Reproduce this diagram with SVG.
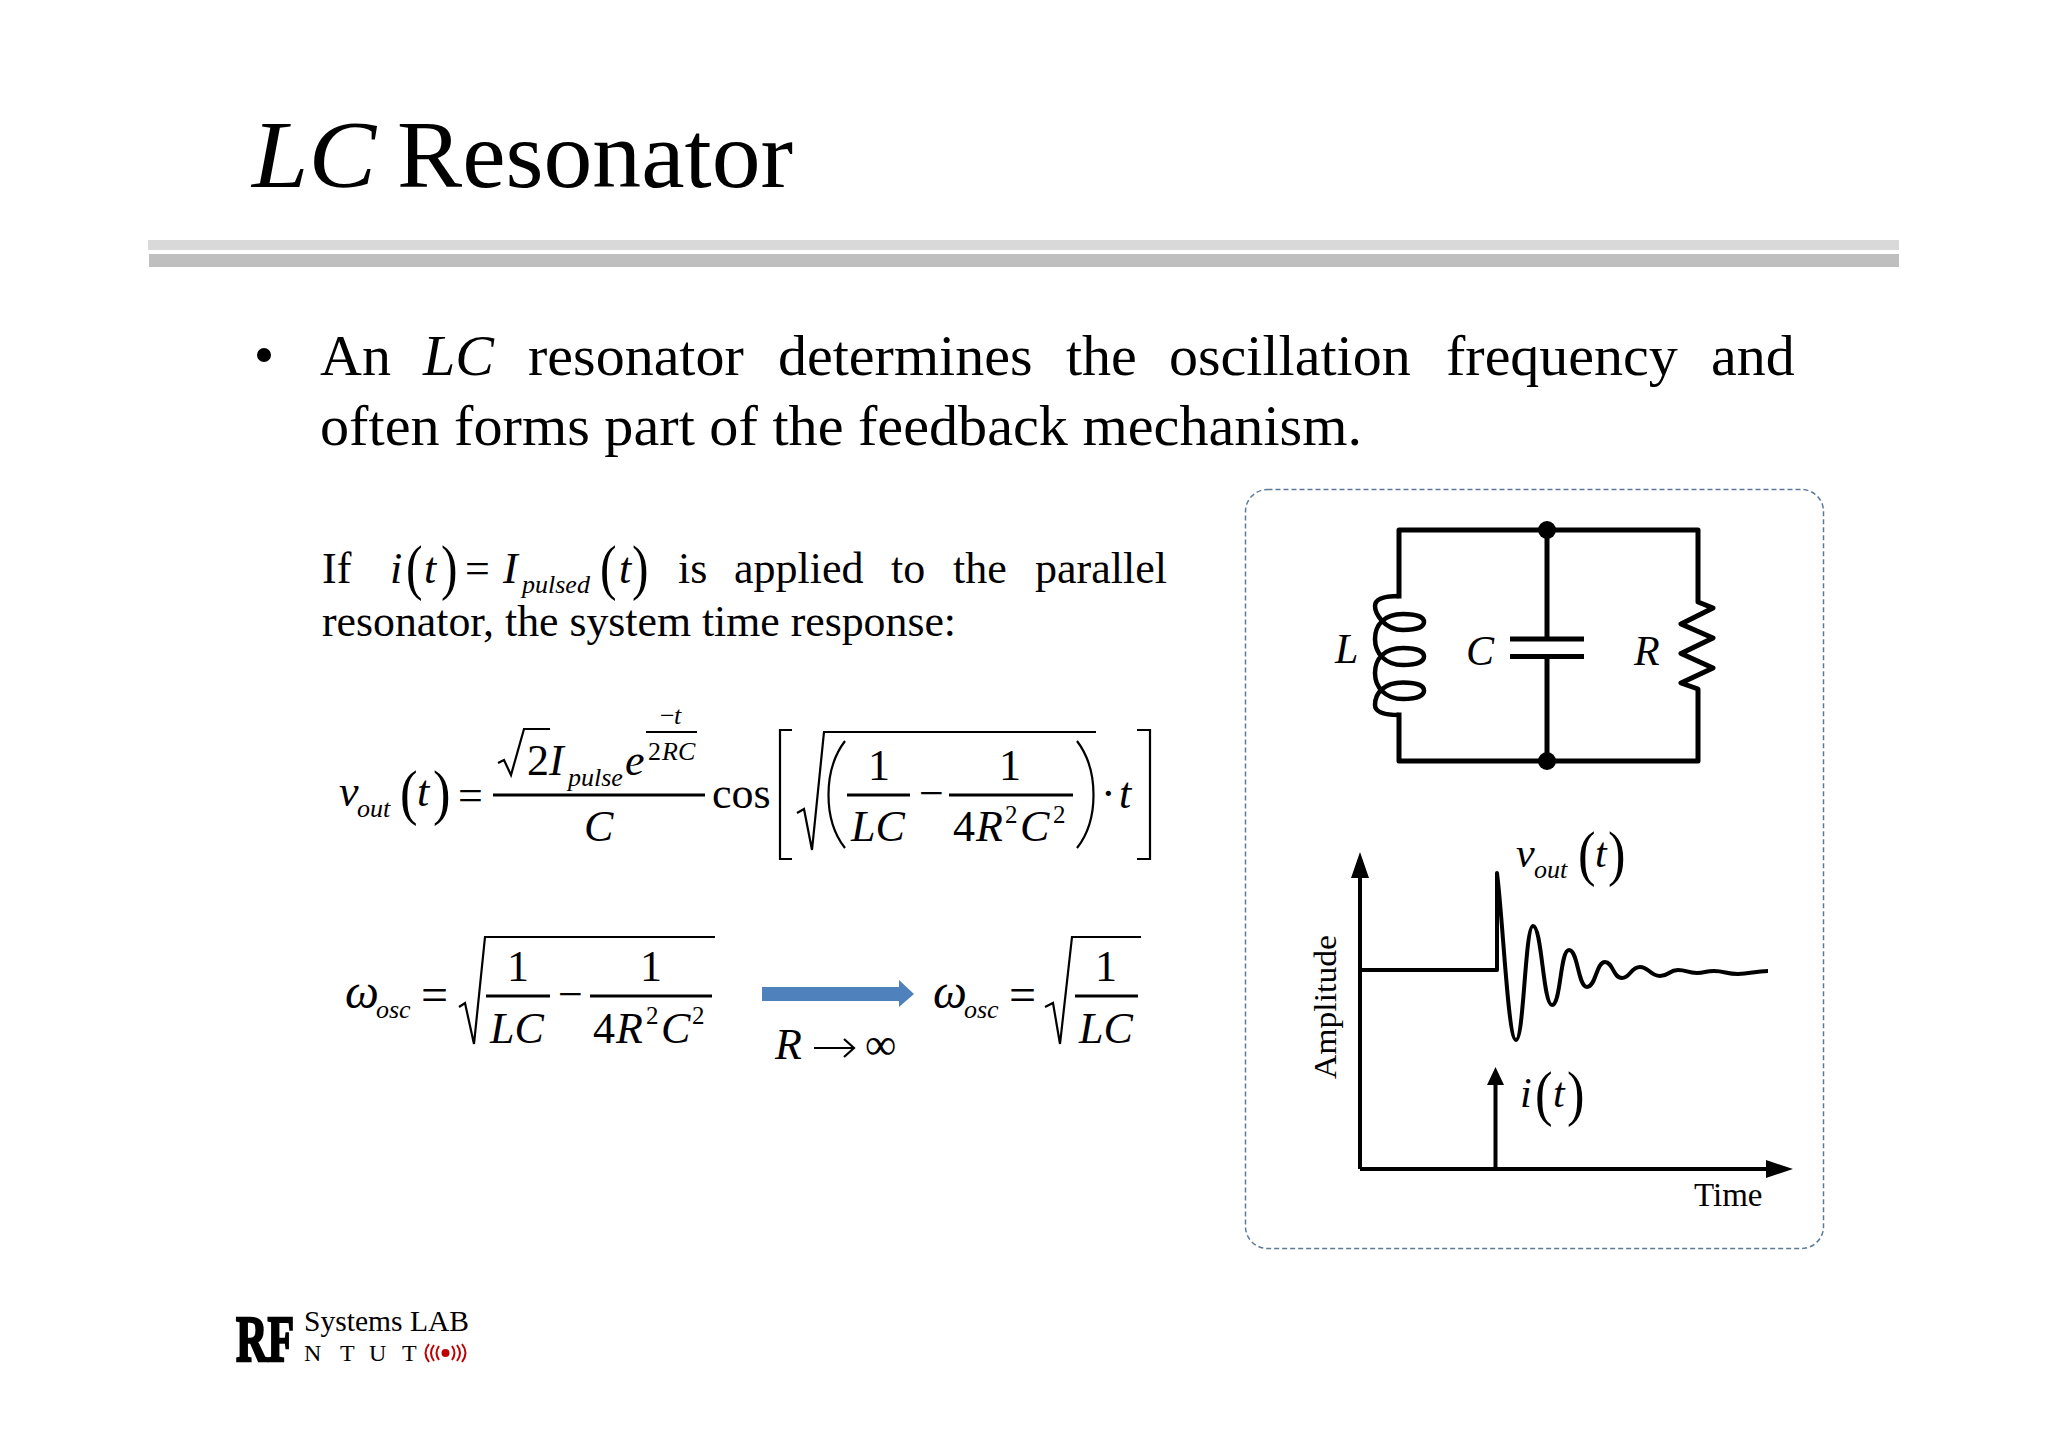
<svg xmlns="http://www.w3.org/2000/svg" width="2048" height="1447" viewBox="0 0 2048 1447">
<style>
text{font-family:"Liberation Serif","Times New Roman",serif;fill:#000}
.i{font-style:italic}
.t{font-size:95px}.b{font-size:58px}.p{font-size:44px}.e{font-size:44px}
.s{font-size:26px}.x{font-size:25px}.c{font-size:42px}.o{font-size:48px}
.br{font-size:62px;font-weight:normal}
.w{fill:none;stroke:#000;stroke-width:5;stroke-linejoin:round}
.m{fill:none;stroke:#000;stroke-width:2.2}
.mb{fill:none;stroke:#000;stroke-width:3}
.sig{fill:none;stroke:#c00000;stroke-width:2}
</style>
<rect width="2048" height="1447" fill="#fff"/>
<g id="title">
<text class="t i" x="252" y="187" textLength="124" lengthAdjust="spacingAndGlyphs">LC</text><text class="t" x="397" y="187" textLength="396" lengthAdjust="spacingAndGlyphs">Resonator</text>
<rect x="148" y="240" width="1751" height="10" fill="#d9d9d9"/>
<rect x="149" y="254" width="1750" height="13" fill="#bfbfbf"/>
</g>
<g id="bullet">
<circle cx="264" cy="355" r="7" fill="#000"/>
<text class="b" y="375"><tspan x="320">An</tspan><tspan x="423" class="i">LC</tspan><tspan x="528">resonator</tspan><tspan x="778">determines</tspan><tspan x="1066">the</tspan><tspan x="1169">oscillation</tspan><tspan x="1446">frequency</tspan><tspan x="1711">and</tspan></text>
<text class="b" x="320" y="445" textLength="1042" lengthAdjust="spacingAndGlyphs">often forms part of the feedback mechanism.</text>
</g>
<g id="intro">
<text class="p" y="583"><tspan x="322">If</tspan><tspan x="390" class="i">i</tspan><tspan x="424" class="i">t</tspan><tspan x="465">=</tspan><tspan x="503" class="i">I</tspan><tspan x="619" class="i">t</tspan><tspan x="678">is</tspan><tspan x="734">applied</tspan><tspan x="891">to</tspan><tspan x="953">the</tspan><tspan x="1035">parallel</tspan></text>
<text class="s i" x="522" y="593">pulsed</text>
<text class="br" transform="translate(406 588) scale(.8 1)">(</text><text class="br" transform="translate(441 588) scale(.8 1)">)</text><text class="br" transform="translate(600 588) scale(.8 1)">(</text><text class="br" transform="translate(632 588) scale(.8 1)">)</text>
<text class="p" x="322" y="636" textLength="634" lengthAdjust="spacingAndGlyphs">resonator, the system time response:</text>
</g>
<g id="equation-vout">
<text class="e i" x="339" y="806">v</text><text class="s i" x="357" y="817">out</text>
<text class="br" transform="translate(400 813) scale(.85 1)">(</text><text class="br" transform="translate(433 813) scale(.85 1)">)</text>
<text class="e i" x="417" y="806">t</text>
<text class="e" x="458" y="810">=</text>
<path class="m" d="M498 763L504 760L511 775L524 729H550"/>
<text class="e" x="527" y="775">2</text><text class="e i" x="549" y="775">I</text>
<text class="s i" x="568" y="786">pulse</text><text class="e i" x="625" y="775">e</text>
<text class="s" x="660" y="724">−</text><text class="s i" x="674" y="724">t</text>
<path class="m" d="M646 732H697"/>
<text class="s" x="648" y="760">2</text><text class="s i" x="662" y="760">RC</text>
<path class="mb" d="M493 795H705"/>
<text class="e i" x="584" y="841">C</text>
<text class="e" x="712" y="808">cos</text>
<path class="m" d="M792 730H780V859H792"/>
<path class="m" d="M797 813L804 809L812 850L824 732H1096"/>
<path class="m" d="M845 741C823 770 823 820 845 848"/>
<path class="m" d="M1077 741C1099 770 1099 820 1077 848"/>
<text class="e" x="868" y="780">1</text>
<path class="mb" d="M847 795H910"/>
<text class="e i" x="851" y="841">LC</text>
<text class="e" x="919" y="808">−</text>
<text class="e" x="999" y="780">1</text>
<path class="mb" d="M949 795H1073"/>
<text class="e" x="953" y="841">4</text><text class="e i" x="976" y="841">R</text><text class="x" x="1005" y="823">2</text><text class="e i" x="1020" y="841">C</text><text class="x" x="1053" y="823">2</text>
<text class="e" x="1101" y="808">·</text><text class="e i" x="1119" y="808">t</text>
<path class="m" d="M1137 730H1150V859H1137"/>
</g>
<g id="equation-wosc">
<text class="o i" x="345" y="1008">ω</text><text class="s i" x="376" y="1018">osc</text>
<text class="o" x="421" y="1011">=</text>
<path class="m" d="M459 1007L465 1003L474 1044L485 937H715"/>
<text class="e" x="507" y="981">1</text><path class="mb" d="M486 996H550"/>
<text class="e i" x="490" y="1043">LC</text>
<text class="e" x="558" y="1009">−</text>
<text class="e" x="640" y="981">1</text><path class="mb" d="M590 996H712"/>
<text class="e" x="593" y="1043">4</text><text class="e i" x="616" y="1043">R</text><text class="x" x="646" y="1024">2</text><text class="e i" x="661" y="1043">C</text><text class="x" x="692" y="1024">2</text>
</g>
<g id="limit-arrow">
<path fill="#4f81bd" d="M762 987H899V980L914 994L899 1007V1001H762Z"/>
<text class="e i" x="775" y="1059">R</text>
<path class="m" d="M814 1048H853M844 1039L854 1048L844 1057"/>
<text x="865" y="1059" style="font-size:44px">∞</text>
</g>
<g id="equation-wosc-limit">
<text class="o i" x="933" y="1008">ω</text><text class="s i" x="964" y="1018">osc</text>
<text class="o" x="1009" y="1011">=</text>
<path class="m" d="M1045 1007L1053 1003L1060 1044L1072 937H1141"/>
<text class="e" x="1095" y="981">1</text><path class="mb" d="M1075 996H1138"/>
<text class="e i" x="1079" y="1043">LC</text>
</g>
<g id="panel"><rect x="1245.500" y="489.500" width="578" height="759" rx="22" fill="#fff" stroke="#5b7a99" stroke-width="1.500" stroke-dasharray="5 3"/></g>
<g id="circuit">
<path class="w" stroke-linecap="square" d="M1399 596V530H1698V602L1713 608L1681 624L1713 638L1681 653.500L1713 668L1681 683L1698 689V761H1399V715"/>
<path class="w" d="M1547 530V639M1547 656V761M1510 639H1584M1510 656.500H1584"/>
<path class="w" style="stroke-width:4.500" d="M1399 596C1385 596 1375 599 1375 606C1375 612 1383 630 1403 630C1416 630 1424 627 1424 622C1424 617 1416 614 1403 614C1384 614 1375 625 1375 639C1375 653 1385 665 1403 665C1416 665 1424 662 1424 656.500C1424 651 1416 648 1403 648C1384 648 1375 659 1375 673C1375 687 1385 699 1403 699C1416 699 1424 696 1424 690.500C1424 685.500 1416 682.500 1403 682.500C1384 682.500 1375 693 1375 705C1375 712 1385 715 1399 715"/>
<circle cx="1547" cy="530" r="9"/><circle cx="1547" cy="761" r="9"/>
<text class="c i" x="1335" y="663">L</text><text class="c i" x="1466" y="665">C</text><text class="c i" x="1634" y="665">R</text>
</g>
<g id="waveform">
<path class="w" style="stroke-width:4" d="M1360 1169V875M1360 1169H1770M1495.500 1169V1082"/>
<path d="M1351 878L1360 852L1369 878ZM1766 1160L1793 1169L1766 1178ZM1487 1085L1495.500 1067L1504 1085Z"/>
<path class="w" style="stroke-width:4" d="M1360 970H1497V873C1503 920 1508 1040 1516 1040C1524 1040 1525 926 1533 926C1542 926 1543 1005 1552 1005C1561 1005 1560 950 1569 950C1578 950 1578 987 1587 987C1596 987 1596 962 1605 962C1613 962 1613 978 1622 978C1630 978 1631 967 1640 967C1649 967 1650 976 1660 976C1669 976 1669 970 1678 970C1687 970 1687 973 1697 973C1705 973 1705 971 1714 971C1725 971 1726 974 1738 974C1750 974 1755 971 1768 971"/>
<text class="c i" x="1516" y="867">v</text><text class="s i" x="1534" y="878">out</text>
<text class="br" transform="translate(1578 874) scale(.85 1)">(</text><text class="br" transform="translate(1608 874) scale(.85 1)">)</text><text class="c i" x="1595" y="867">t</text>
<text class="c i" x="1520" y="1107">i</text>
<text class="br" transform="translate(1535 1114) scale(.85 1)">(</text><text class="br" transform="translate(1567 1114) scale(.85 1)">)</text><text class="c i" x="1553" y="1107">t</text>
<text style="font-size:33px" x="1694" y="1206">Time</text>
<text style="font-size:32px" transform="translate(1336 1079) rotate(-90)" textLength="144" lengthAdjust="spacingAndGlyphs">Amplitude</text>
</g>
<g id="logo">
<text transform="translate(236 1361) scale(.66 1)" style="font-size:66px;font-weight:bold;stroke:#000;stroke-width:2.500">RF</text>
<text x="304" y="1331" style="font-size:29px" fill="#222" textLength="165" lengthAdjust="spacingAndGlyphs">Systems LAB</text>
<text style="font-size:24px" y="1361" fill="#222"><tspan x="304">N</tspan><tspan x="340">T</tspan><tspan x="369">U</tspan><tspan x="402">T</tspan></text>
<circle cx="445.500" cy="1353" r="4" fill="#c00000"/>
<path class="sig" d="M439 1346Q434 1353 439 1360M434 1345Q428 1353 434 1361M429 1344Q422 1353 429 1362M452 1346Q457 1353 452 1360M457 1345Q463 1353 457 1361M462 1344Q469 1353 462 1362"/>
</g>
</svg>
